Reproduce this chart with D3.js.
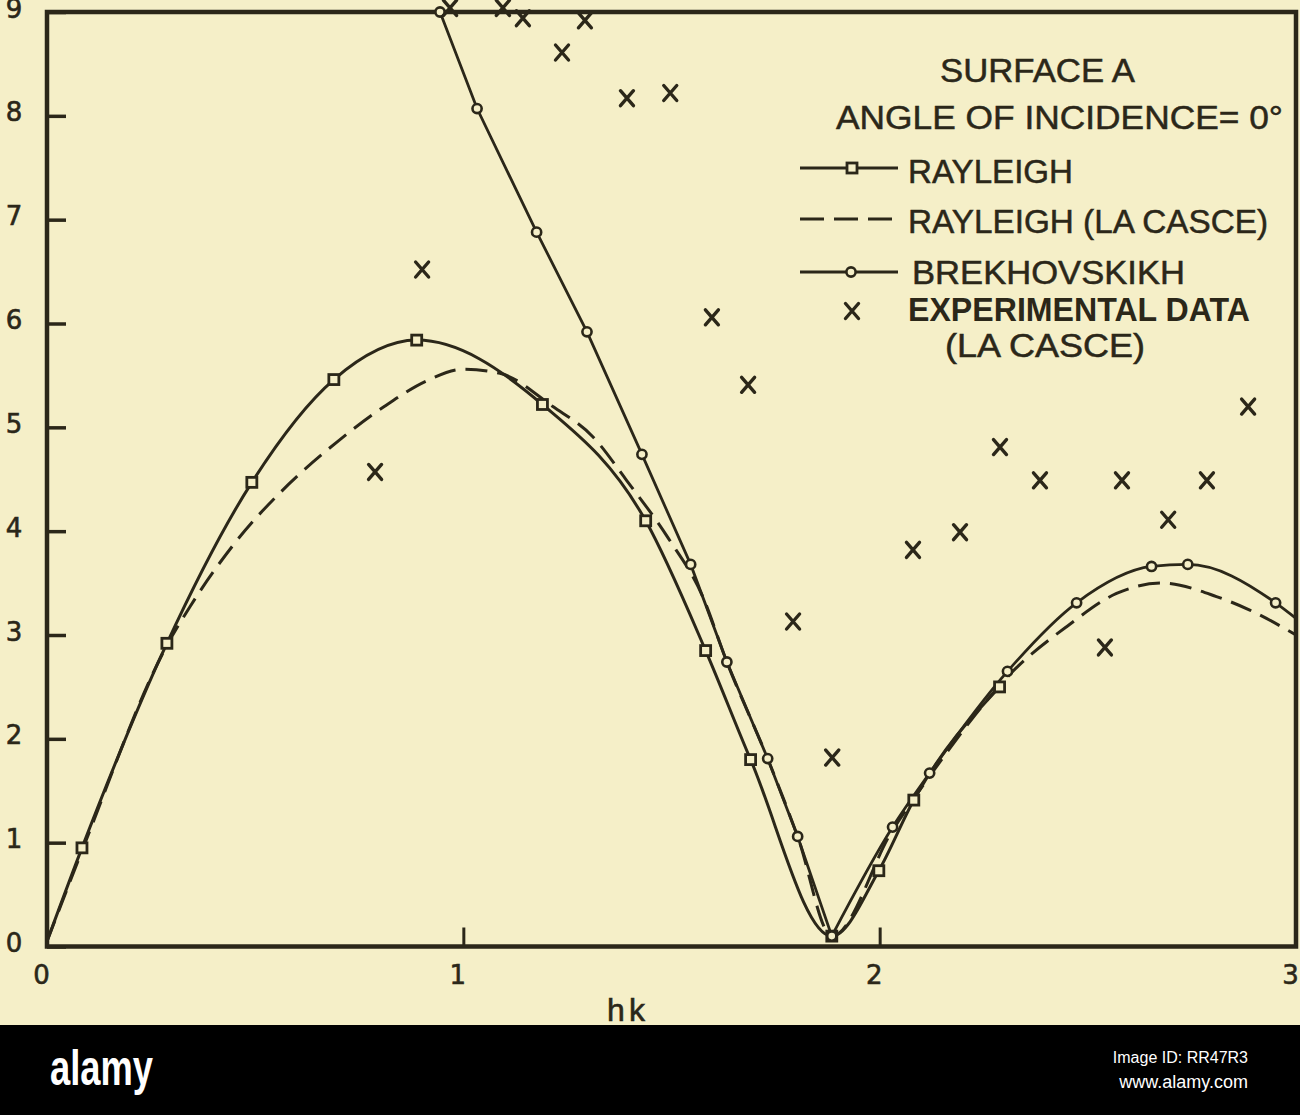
<!DOCTYPE html>
<html>
<head>
<meta charset="utf-8">
<script src="https://cdn.jsdelivr.net/npm/d3@7"></script>
<style>
  html, body { margin: 0; padding: 0; background: #f5efc8; }
  svg { display: block; }
</style>
</head>
<body>
<div id="chart"></div>
<script>
// axis ticks
const hkTicks = [0, 1, 2, 3];
const valueTicks = [0, 1, 2, 3, 4, 5, 6, 7, 8, 9];

// Rayleigh (squares)
const rayleighHk  = [0, 0.084, 0.288, 0.492, 0.689, 0.888, 1.19, 1.438, 1.582, 1.69, 1.885, 1.998, 2.082, 2.288];
const rayleighVal = [0.05, 0.95, 2.92, 4.47, 5.46, 5.84, 5.22, 4.10, 2.85, 1.80, 0.10, 0.73, 1.41, 2.50];

// Rayleigh (La Casce), dashed
const laCasceHk  = [0, 0.084, 0.288, 0.343, 0.45, 0.58, 0.70, 0.81, 0.913, 1.0, 1.088, 1.215, 1.311, 1.392, 1.491, 1.575, 1.633, 1.731, 1.803, 1.885,
                    2.031, 2.12, 2.33, 2.449, 2.569, 2.677, 2.809, 2.889, 3.0];
const laCasceVal = [0.05, 0.92, 2.90, 3.27, 3.88, 4.45, 4.87, 5.20, 5.45, 5.56, 5.52, 5.20, 4.91, 4.49, 3.94, 3.37, 2.74, 1.81, 1.06, 0.10,
                    1.12, 1.64, 2.69, 3.08, 3.40, 3.50, 3.37, 3.24, 3.0];

// Brekhovskikh (circles)
const brekHk  = [0.944, 1.033, 1.176, 1.297, 1.429, 1.546, 1.633, 1.731, 1.803, 1.885, 2.031, 2.12, 2.307, 2.473, 2.653, 2.74, 2.951, 3.0];
const brekVal = [9.0, 8.07, 6.88, 5.92, 4.74, 3.68, 2.74, 1.81, 1.06, 0.10, 1.15, 1.67, 2.65, 3.31, 3.66, 3.68, 3.31, 3.16];

// experimental data (La Casce)
const expHk  = [0.968, 1.095, 1.143, 1.292, 1.237, 1.393, 1.497, 0.901, 1.597, 1.684, 0.788, 1.792, 1.886,
                2.289, 2.385, 2.582, 2.786, 2.693, 2.193, 2.080, 2.541, 2.885];
const expVal = [9.04, 9.04, 8.94, 8.92, 8.61, 8.17, 8.22, 6.52, 6.06, 5.41, 4.57, 3.13, 1.82,
                4.81, 4.49, 4.49, 4.49, 4.11, 3.99, 3.82, 2.88, 5.20];

const legendLines = ["SURFACE A", "ANGLE OF INCIDENCE= 0°", "RAYLEIGH", "RAYLEIGH (LA CASCE)", "BREKHOVSKIKH", "EXPERIMENTAL DATA", "(LA CASCE)"];

var width = 1300
    ,height = 1115
    ,ink = '#2b2719'
    ,paper = '#f5efc8'
    ,font = '"Liberation Sans", Arial, sans-serif'
    ,tickFont = '"DejaVu Sans", sans-serif';

var svg = d3.select('#chart').append('svg')
    .attr('width', width)
    .attr('height', height);

svg.append('rect').attr('width', width).attr('height', height).attr('fill', paper);

var x = d3.scaleLinear().domain([0, 3]).range([47, 1296]);
var y = d3.scaleLinear().domain([0, 9]).range([946.5, 12]);

svg.append('clipPath').attr('id', 'plot')
    .append('rect')
    .attr('x', x(0)).attr('y', y(9))
    .attr('width', x(3) - x(0)).attr('height', y(0) - y(9));

// axes, ticks inside
var yAxis = d3.axisLeft(y).tickValues(valueTicks).tickSize(-19).tickPadding(0).tickFormat(d3.format('d'));
var gy = svg.append('g').attr('transform', 'translate(' + x(0) + ',0)').call(yAxis);
gy.select('.domain').remove();
gy.selectAll('.tick line').attr('stroke', ink).attr('stroke-width', 3.5);
gy.selectAll('.tick text')
    .attr('x', 14 - x(0)).attr('dy', null).attr('y', 5)
    .attr('text-anchor', 'middle')
    .attr('fill', ink)
    .attr('stroke', ink).attr('stroke-width', 0.6)
    .style('font', '26px ' + tickFont);

var xAxis = d3.axisBottom(x).tickValues(hkTicks).tickSize(-19).tickFormat(d3.format('d'));
var gx = svg.append('g').attr('transform', 'translate(0,' + y(0) + ')').call(xAxis);
gx.select('.domain').remove();
gx.selectAll('.tick line').attr('stroke', ink).attr('stroke-width', 3);
gx.selectAll('.tick text')
    .attr('x', -6).attr('dy', null).attr('y', 37)
    .attr('text-anchor', 'middle')
    .attr('fill', ink)
    .attr('stroke', ink).attr('stroke-width', 0.6)
    .style('font', '26px ' + tickFont);

// frame
svg.append('rect')
    .attr('x', x(0)).attr('y', y(9))
    .attr('width', x(3) - x(0)).attr('height', y(0) - y(9))
    .attr('fill', 'none').attr('stroke', ink).attr('stroke-width', 4.5);

svg.append('text')
    .attr('x', 628).attr('y', 1021)
    .attr('text-anchor', 'middle')
    .attr('fill', ink)
    .attr('stroke', ink).attr('stroke-width', 0.6)
    .style('font', '32px ' + font)
    .style('letter-spacing', '4px')
    .text('hk');

function zipPts(hk, val) {
    return hk.map((h, i) => [h, val[i]]);
}

// split a curve at its minimum so the cusp stays sharp
function branches(pts) {
    var iMin = d3.minIndex(pts, d => d[1]);
    return [pts.slice(0, iMin + 1), pts.slice(iMin)];
}

function line(curve) {
    return d3.line()
        .x(d => x(d[0]))
        .y(d => y(d[1]))
        .curve(curve);
}

var curves = svg.append('g').attr('clip-path', 'url(#plot)');

var rayleigh = zipPts(rayleighHk, rayleighVal);
var laCasce = zipPts(laCasceHk, laCasceVal);
var brek = zipPts(brekHk, brekVal);

branches(laCasce).forEach(b => {
    curves.append('path').attr('d', line(d3.curveMonotoneX)(b))
        .attr('fill', 'none').attr('stroke', ink).attr('stroke-width', 3)
        .attr('stroke-dasharray', '22,10');
});
branches(rayleigh).forEach(b => {
    curves.append('path').attr('d', line(d3.curveMonotoneX)(b))
        .attr('fill', 'none').attr('stroke', ink).attr('stroke-width', 3);
});
// the falling Brekhovskikh branch is drawn as straight segments
branches(brek).forEach((b, i) => {
    curves.append('path').attr('d', line(i === 0 ? d3.curveLinear : d3.curveMonotoneX)(b))
        .attr('fill', 'none').attr('stroke', ink).attr('stroke-width', 2.8);
});

function square(g, cx, cy) {
    g.append('rect')
        .attr('x', cx - 5).attr('y', cy - 5)
        .attr('width', 10).attr('height', 10)
        .attr('fill', paper).attr('stroke', ink).attr('stroke-width', 2.8);
}
function circle(g, cx, cy) {
    g.append('circle')
        .attr('cx', cx).attr('cy', cy).attr('r', 4.6)
        .attr('fill', paper).attr('stroke', ink).attr('stroke-width', 2.6);
}
function cross(g, cx, cy) {
    g.append('path')
        .attr('d', 'M' + (cx - 6.5) + ',' + (cy - 7.5) + 'L' + (cx + 6.5) + ',' + (cy + 7.5) +
                   'M' + (cx - 6.5) + ',' + (cy + 7.5) + 'L' + (cx + 6.5) + ',' + (cy - 7.5))
        .attr('fill', 'none').attr('stroke', ink).attr('stroke-width', 3.4)
        .attr('stroke-linecap', 'round');
}

var marks = svg.append('g');
rayleigh.filter(d => d[0] > 0 && d[0] < 3).forEach(d => square(marks, x(d[0]), y(d[1])));
brek.filter(d => d[0] > 0 && d[0] < 3).forEach(d => circle(marks, x(d[0]), y(d[1])));
zipPts(expHk, expVal).forEach(d => cross(marks, x(d[0]), y(d[1])));

// legend
var legend = svg.append('g');
var legendText = [
    { x: 940, y: 82, len: 195 },
    { x: 836, y: 129, len: 447 },
    { x: 908, y: 183, len: 165 },
    { x: 908, y: 233, len: 360 },
    { x: 912, y: 284, len: 273 },
    { x: 908, y: 321, len: 342, bold: true },
    { x: 945, y: 357, len: 200 }
];
legendText.forEach((t, i) => {
    legend.append('text')
        .attr('x', t.x).attr('y', t.y)
        .attr('textLength', t.len)
        .attr('lengthAdjust', 'spacingAndGlyphs')
        .attr('fill', ink)
        .attr('stroke', ink).attr('stroke-width', t.bold ? 0 : 0.5)
        .style('font', (t.bold ? 'bold 34px ' : '33px ') + font)
        .text(legendLines[i]);
});

legend.append('line').attr('x1', 800).attr('x2', 898).attr('y1', 168).attr('y2', 168)
    .attr('stroke', ink).attr('stroke-width', 3);
square(legend, 852, 168);
legend.append('line').attr('x1', 800).attr('x2', 898).attr('y1', 219).attr('y2', 219)
    .attr('stroke', ink).attr('stroke-width', 3).attr('stroke-dasharray', '24,10');
legend.append('line').attr('x1', 800).attr('x2', 898).attr('y1', 272).attr('y2', 272)
    .attr('stroke', ink).attr('stroke-width', 3);
circle(legend, 851, 272);
cross(legend, 852, 311);

// footer band
var foot = svg.append('g');
foot.append('rect').attr('x', 0).attr('y', 1025).attr('width', width).attr('height', height - 1025).attr('fill', '#000');
foot.append('text')
    .attr('x', 50).attr('y', 1085)
    .attr('textLength', 103).attr('lengthAdjust', 'spacingAndGlyphs')
    .attr('fill', '#fff')
    .style('font', 'bold 50px ' + font)
    .text('alamy');
foot.append('text')
    .attr('x', 1248).attr('y', 1063)
    .attr('text-anchor', 'end')
    .attr('fill', '#fff')
    .style('font', '16px ' + font)
    .text('Image ID: RR47R3');
foot.append('text')
    .attr('x', 1248).attr('y', 1088)
    .attr('text-anchor', 'end')
    .attr('fill', '#fff')
    .style('font', '18px ' + font)
    .text('www.alamy.com');
</script>
</body>
</html>
